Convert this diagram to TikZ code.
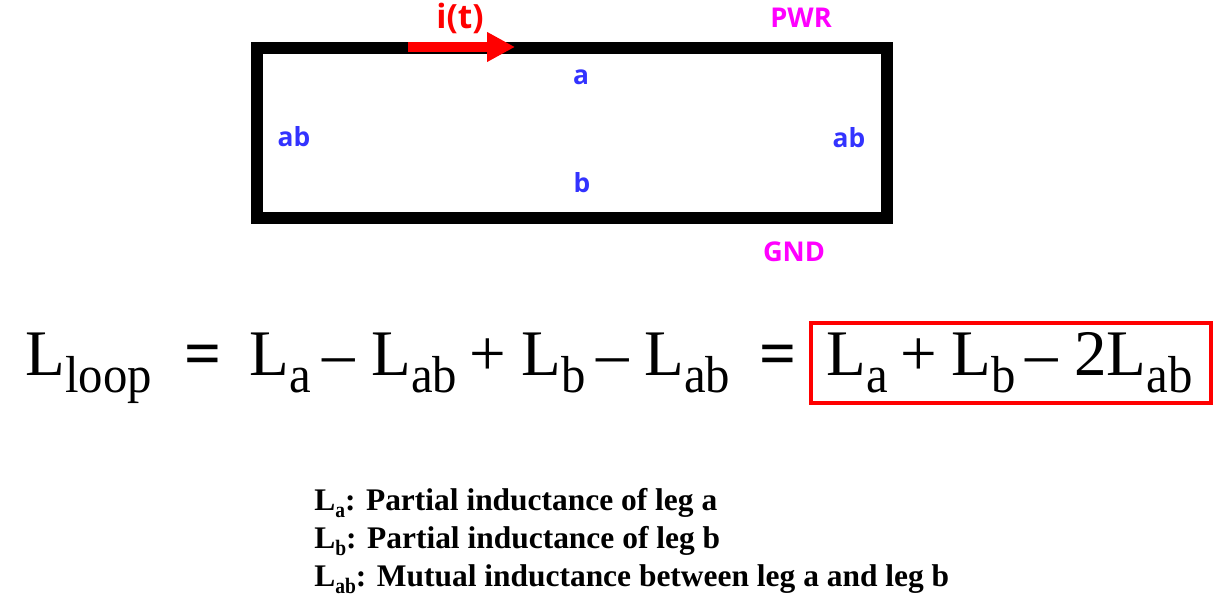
\documentclass[tikz,border=0pt]{standalone}
\usepackage{fontspec}
\setmainfont{Liberation Serif}
\newfontfamily\labelfont{Open Sans}
\usetikzlibrary{arrows.meta}
\definecolor{legblue}{RGB}{51,51,255}
\definecolor{railpink}{RGB}{255,0,255}
\newcommand{\Lsub}[1]{L\raisebox{-0.25em}{\scalebox{0.75}[0.8]{#1}}}
\newcommand{\Lsm}[1]{L\raisebox{-0.22em}{\scalebox{0.62}[0.7]{#1}}}
\tikzset{
  leglabel/.style={font=\labelfont\bfseries\fontsize{15}{16}\selectfont, text=legblue, inner sep=0},
  raillabel/.style={font=\labelfont\bfseries\fontsize{15.5}{16}\selectfont, text=railpink, inner sep=0},
  eqpart/.style={font=\fontsize{37}{40}\selectfont, anchor=base west, inner sep=0},
  defline/.style={font=\bfseries\fontsize{17.9}{20}\selectfont, anchor=base west, inner sep=0}
}
\begin{document}
\begin{tikzpicture}
   \useasboundingbox (0,0) rectangle (24.52,11.96);
   % loop
   \coordinate (sw) at (5.14,7.6);
   \coordinate (ne) at (17.74,11);
   \draw[line width=0.24cm] (sw) rectangle (ne);
   % current arrow
   \coordinate (itail) at (8.16,11.02);
   \coordinate (ihead) at (10.3,11.02);
   \draw[line width=0.2cm, color=red, -{Triangle[length=0.56cm,width=0.56cm]}] (itail)--(ihead);
   \node[font=\labelfont\bfseries\fontsize{19}{20}\selectfont, text=red, inner sep=0] (cur) at (9.2,11.6) {i(t)};
   \node[raillabel] (pwr) at (16.02,11.6) {PWR};
   \node[raillabel] (gnd) at (15.88,6.92) {GND};
   \node[leglabel] (lega) at (11.62,10.42) {a};
   \node[leglabel] (legb) at (11.64,8.3) {b};
   \node[leglabel] (mutl) at (5.88,9.22) {ab};
   \node[leglabel] (mutr) at (16.98,9.2) {ab};
   % equation
   \node[eqpart] (loop) at (0.5,4.44) {\Lsub{loop}};
   \node[eqpart] (eqa) at (3.68,4.44) {\textbf{=}};
   \node[eqpart] (la) at (4.98,4.44) {\Lsub{a}};
   \node[eqpart] (ma) at (6.45,4.44) {–};
   \node[eqpart] (lab) at (7.42,4.44) {\Lsub{ab}};
   \node[eqpart] (pa) at (9.38,4.44) {+};
   \node[eqpart] (lb) at (10.42,4.44) {\Lsub{b}};
   \node[eqpart] (mb) at (11.92,4.44) {–};
   \node[eqpart] (labb) at (12.88,4.44) {\Lsub{ab}};
   \node[eqpart] (eqb) at (15.18,4.44) {\textbf{=}};
   \node[eqpart] (lc) at (16.52,4.44) {\Lsub{a}};
   \node[eqpart] (pc) at (18,4.44) {+};
   \node[eqpart] (ld) at (19.02,4.44) {\Lsub{b}};
   \node[eqpart] (mc) at (20.5,4.44) {–};
   \node[eqpart] (two) at (21.48,4.44) {2\Lsub{ab}};
   \coordinate (boxsw) at (16.22,3.9);
   \coordinate (boxne) at (24.22,5.5);
   \draw[line width=0.08cm, color=red] (boxsw) rectangle (boxne);
   % definitions
   \node[defline] (defa) at (6.28,1.74) {\Lsm{a}: Partial inductance of leg a};
   \node[defline] (defb) at (6.28,0.98) {\Lsm{b}: Partial inductance of leg b};
   \node[defline] (defab) at (6.28,0.22) {\Lsm{ab}: Mutual inductance between leg a and leg b};
\end{tikzpicture}
\end{document}
